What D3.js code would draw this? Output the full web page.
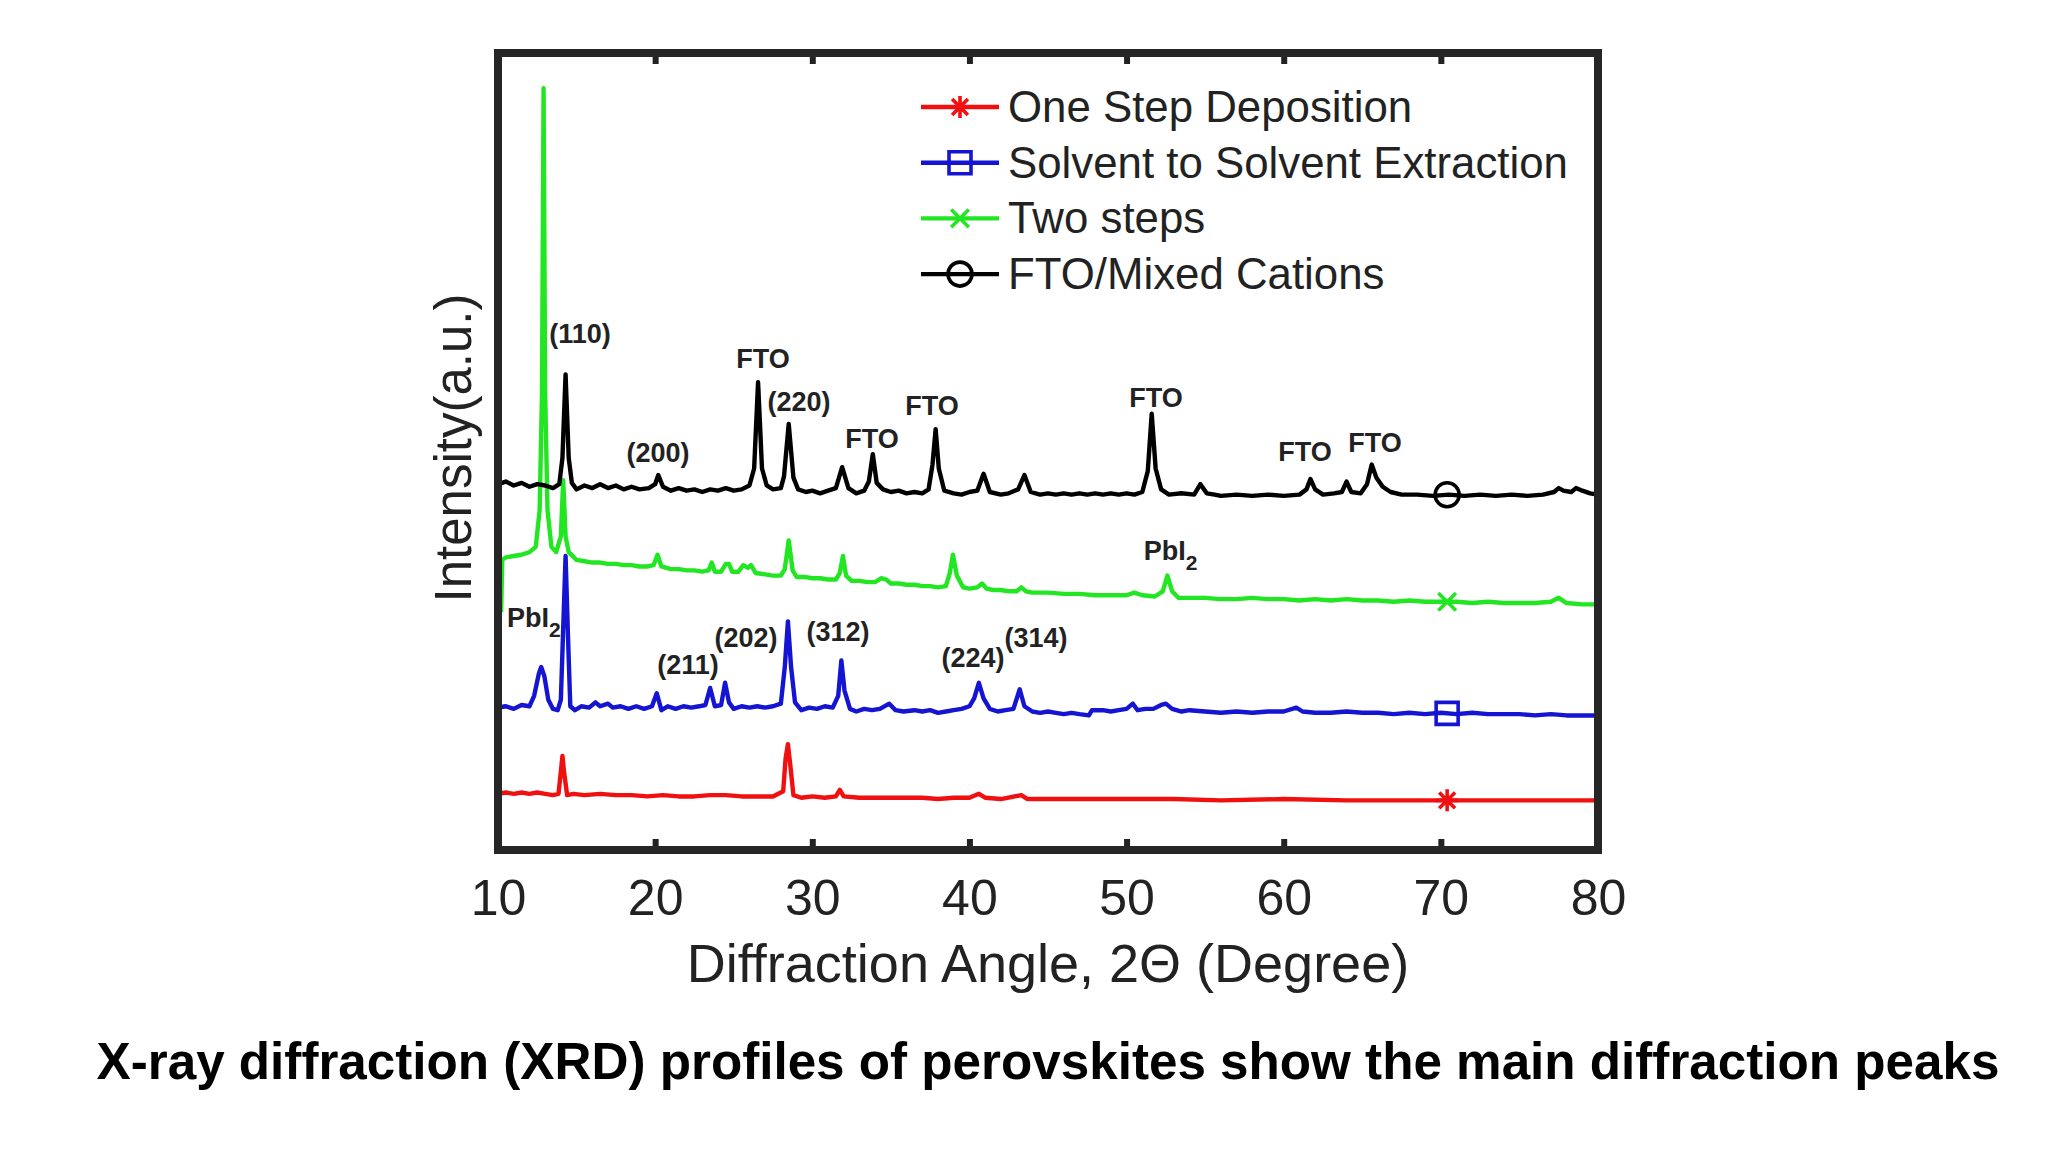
<!DOCTYPE html>
<html>
<head>
<meta charset="utf-8">
<title>XRD profiles</title>
<script src="https://d3js.org/d3.v7.min.js"></script>
<style>
  html, body { margin: 0; padding: 0; background: #fff; }
  svg text { font-family: "Liberation Sans", Arial, Helvetica, sans-serif; fill: #222; }
  .lbl { font-weight: bold; font-size: 27px; }
</style>
</head>
<body>
<svg id="chart" width="2048" height="1152"></svg>
<script>
// 2-theta (deg) and intensity (a.u., offset stacked)
var oneStep = [
  [10.0,43],[10.5,44],[11.0,43],[11.5,44],[12.0,43],[12.5,44],[13.0,43],[13.5,42],[13.85,43],[14.0,60],[14.1,72],[14.2,60],
  [14.4,42],[14.8,43],[15.5,42],[16.5,43],[17.5,42],[18.5,42],[19.5,41],[20.5,42],[21.5,41],[22.5,41],[23.5,42],[24.5,42],
  [25.5,41],[26.5,41],[27.5,41],[28.15,45],[28.3,70],[28.45,81],[28.6,65],[28.8,42],[29.3,40],[30.0,41],[30.8,40],[31.5,41],
  [31.75,46],[32.0,41],[33.0,40],[34.0,40],[35.0,40],[36.0,40],[37.0,40],[38.0,39],[39.0,40],[40.0,40],[40.6,43],[41.0,40],
  [42.0,39],[43.3,42],[43.7,39],[45.0,39],[47.0,39],[50.0,39],[53.0,39],[56.0,38],[60.0,39],[64.0,38],[68.0,38],[72.0,38],
  [76.0,38],[80.0,38]
];

var solventExtraction = [
  [10.0,109],[10.5,110],[11.0,108],[11.5,111],[12.0,110],[12.3,118],[12.6,135],[12.75,140],[12.95,133],[13.2,115],[13.5,108],
  [13.8,107],[14.0,115],[14.15,170],[14.3,225],[14.45,165],[14.6,110],[14.9,107],[15.3,110],[15.8,109],[16.2,113],[16.5,110],
  [17.0,112],[17.3,109],[17.8,110],[18.3,108],[18.8,110],[19.3,108],[19.8,110],[20.1,120],[20.4,107],[20.8,110],[21.3,108],
  [21.8,110],[22.3,109],[22.8,110],[23.2,111],[23.5,124],[23.8,110],[24.2,111],[24.45,128],[24.7,113],[25.0,108],[25.5,110],
  [26.0,109],[26.5,110],[27.0,109],[27.5,110],[28.0,112],[28.25,140],[28.45,175],[28.65,140],[28.9,113],[29.3,107],[29.8,109],
  [30.3,108],[30.8,110],[31.3,109],[31.65,118],[31.85,145],[32.05,122],[32.4,108],[32.8,106],[33.3,108],[33.8,107],[34.3,108],
  [34.9,112],[35.3,107],[35.8,106],[36.5,107],[37.0,106],[37.5,107],[38.0,105],[38.5,106],[39.0,107],[39.5,108],[40.0,110],
  [40.3,116],[40.6,128],[40.9,116],[41.3,108],[41.8,106],[42.3,107],[42.8,108],[43.2,123],[43.5,110],[44.0,106],[44.5,105],
  [45.0,106],[45.5,105],[46.0,104],[46.5,105],[47.0,104],[47.6,103],[47.8,107],[48.5,107],[49.0,106],[49.5,107],[50.0,108],
  [50.4,112],[50.7,107],[51.2,108],[51.7,108],[52.2,111],[52.5,112],[52.9,108],[53.5,106],[54.0,107],[55.0,106],[56.0,105],
  [57.0,106],[58.0,105],[59.0,106],[60.0,106],[60.8,109],[61.2,106],[62.0,105],[63.0,105],[64.0,106],[65.0,105],[66.0,105],
  [67.0,104],[68.0,105],[69.0,104],[70.0,105],[71.0,104],[72.0,105],[73.0,104],[74.0,104],[75.0,104],[76.0,103],[77.0,104],
  [78.0,103],[79.0,103],[80.0,103]
];

var twoSteps = [
  [10.2,182],[10.27,222],[10.5,224],[11.0,225],[11.5,226],[12.0,228],[12.4,232],[12.65,260],[12.8,350],[12.9,583],[13.0,350],
  [13.15,260],[13.4,232],[13.7,228],[14.0,240],[14.15,283],[14.3,240],[14.5,228],[15.0,222],[15.5,221],[16.0,220],[16.5,220],
  [17.0,219],[17.5,219],[18.0,218],[18.5,218],[19.0,217],[19.5,217],[19.9,218],[20.15,226],[20.4,217],[21.0,215],[21.5,215],
  [22.0,214],[22.5,214],[23.0,213],[23.4,214],[23.6,220],[23.8,213],[24.2,213],[24.5,219],[24.7,219],[24.9,213],[25.3,213],
  [25.6,218],[25.9,216],[26.1,218],[26.4,212],[27.0,211],[27.5,210],[28.0,210],[28.25,215],[28.5,237],[28.75,214],[29.0,209],
  [29.5,209],[30.0,208],[30.5,208],[31.0,207],[31.5,207],[31.75,212],[31.95,225],[32.15,210],[32.5,206],[33.0,206],[33.5,205],
  [34.0,205],[34.4,208],[34.7,207],[35.0,204],[35.5,204],[36.0,203],[36.5,203],[37.0,202],[37.5,202],[38.0,201],[38.5,202],
  [38.75,212],[38.95,226],[39.2,210],[39.6,201],[40.0,200],[40.5,201],[40.8,204],[41.1,200],[41.5,199],[42.0,199],[42.5,198],
  [43.0,198],[43.3,201],[43.6,198],[44.0,197],[45.0,197],[46.0,196],[47.0,196],[48.0,195],[49.0,195],[50.0,195],[50.5,197],
  [51.0,195],[51.8,194],[52.3,198],[52.6,210],[52.9,198],[53.3,193],[54.0,193],[55.0,193],[56.0,192],[57.0,192],[58.0,193],
  [59.0,192],[60.0,192],[61.0,191],[62.0,192],[63.0,191],[64.0,192],[65.0,191],[66.0,191],[67.0,190],[68.0,191],[69.0,190],
  [70.0,190],[71.0,190],[72.0,189],[73.0,190],[74.0,189],[75.0,189],[76.0,189],[77.0,190],[77.5,193],[78.0,189],[79.0,188],
  [80.0,188]
];

var ftoMixed = [
  [10.0,280],[10.5,282],[11.0,279],[11.5,281],[12.0,278],[12.5,280],[13.0,279],[13.5,277],[13.9,280],[14.1,300],[14.3,364],
  [14.5,300],[14.7,281],[15.0,276],[15.5,279],[16.0,277],[16.5,280],[17.0,277],[17.5,279],[18.0,276],[18.5,278],[19.0,276],
  [19.6,277],[20.0,280],[20.2,287],[20.5,278],[21.0,275],[21.5,277],[22.0,275],[22.5,276],[23.0,274],[23.5,276],[24.0,275],
  [24.5,277],[25.0,275],[25.5,276],[26.0,279],[26.3,292],[26.55,358],[26.8,292],[27.1,279],[27.5,276],[28.0,277],[28.2,286],
  [28.5,326],[28.8,285],[29.1,276],[29.6,274],[30.0,275],[30.5,273],[31.0,275],[31.5,277],[31.9,293],[32.3,277],[32.8,273],
  [33.3,275],[33.6,282],[33.85,303],[34.1,281],[34.5,276],[35.0,274],[35.5,275],[36.0,273],[36.5,274],[37.0,273],[37.4,276],
  [37.65,295],[37.85,322],[38.05,292],[38.4,275],[39.0,273],[39.5,272],[40.0,274],[40.5,275],[40.9,288],[41.3,274],[42.0,272],
  [42.5,273],[43.1,276],[43.5,287],[43.9,274],[44.5,272],[45.0,273],[45.5,272],[46.0,273],[46.5,272],[47.0,273],[47.5,272],
  [48.0,273],[48.5,272],[49.0,273],[49.5,272],[50.0,273],[50.5,272],[51.0,274],[51.35,290],[51.6,334],[51.85,292],[52.2,276],
  [52.7,272],[53.5,273],[54.3,272],[54.7,280],[55.1,273],[55.6,272],[56.0,271],[57.0,272],[58.0,271],[59.0,272],[60.0,271],
  [61.0,272],[61.45,276],[61.7,284],[62.0,276],[62.5,272],[63.2,273],[63.7,274],[64.0,282],[64.3,274],[64.9,273],[65.3,280],
  [65.6,295],[65.9,285],[66.3,278],[66.8,274],[67.5,272],[68.5,272],[69.5,271],[70.5,272],[71.5,271],[72.5,272],[73.5,271],
  [74.5,272],[75.5,271],[76.5,272],[77.2,274],[77.5,277],[77.8,275],[78.3,274],[78.6,277],[79.0,275],[79.5,273],[80.0,272]
];

var seriesNames = ["One Step Deposition", "Solvent to Solvent Extraction", "Two steps", "FTO/Mixed Cations"];
var seriesColors = ["#f01010", "#1414d2", "#22e622", "#000000"];
var seriesMarkers = ["asterisk", "square", "times", "circle"];
var markerAngle = 70.4;

var xTicks = [10, 20, 30, 40, 50, 60, 70, 80];

// peak labels: text, subscript, 2-theta, intensity
var peakLabels = [
  ["(110)", "", 15.22, 388], ["(200)", "", 20.18, 297], ["FTO", "", 26.86, 369], ["(220)", "", 29.15, 336],
  ["FTO", "", 33.80, 308], ["FTO", "", 37.62, 333], ["FTO", "", 51.87, 339], ["FTO", "", 61.36, 298],
  ["FTO", "", 65.81, 305], ["PbI", "2", 51.1, 222], ["PbI", "2", 10.57, 171], ["(211)", "", 22.09, 135],
  ["(202)", "", 25.78, 155], ["(312)", "", 31.64, 160], ["(224)", "", 40.23, 140], ["(314)", "", 44.24, 155]
];

var svg = d3.select("#chart");
svg.append("rect").attr("width", 2048).attr("height", 1152).attr("fill", "#fff");

var x = d3.scaleLinear().domain([10, 80]).range([498, 1598]);
var y = d3.scaleLinear().domain([0, 610]).range([850, 53]);

svg.append("clipPath").attr("id", "plotclip")
  .append("rect").attr("x", x(10)).attr("y", y(610)).attr("width", x(80) - x(10)).attr("height", y(0) - y(610));

var line = d3.line().x(function(d) { return x(d[0]); }).y(function(d) { return y(d[1]); });

var allSeries = [oneStep, solventExtraction, twoSteps, ftoMixed];

// marker shapes, drawn as paths around 0,0
function markerPath(kind, r) {
  if (kind === "asterisk") {
    var k = r * 0.72;
    return "M" + (-r) + ",0H" + r + "M0," + (-r) + "V" + r +
      "M" + (-k) + "," + (-k) + "L" + k + "," + k + "M" + (-k) + "," + k + "L" + k + "," + (-k);
  }
  if (kind === "times") {
    var t = r * 0.8;
    return "M" + (-t) + "," + (-t) + "L" + t + "," + t + "M" + (-t) + "," + t + "L" + t + "," + (-t);
  }
  if (kind === "square") {
    return "M" + (-r) + "," + (-r) + "H" + r + "V" + r + "H" + (-r) + "Z";
  }
  return d3.arc()({innerRadius: 0, outerRadius: r, startAngle: 0, endAngle: 2 * Math.PI});
}

function valueAt(data, a) {
  var i = d3.bisector(function(d) { return d[0]; }).left(data, a);
  var p0 = data[Math.max(0, i - 1)], p1 = data[Math.min(data.length - 1, i)];
  if (p1[0] === p0[0]) return p0[1];
  return p0[1] + (p1[1] - p0[1]) * (a - p0[0]) / (p1[0] - p0[0]);
}

var plot = svg.append("g").attr("clip-path", "url(#plotclip)");

allSeries.forEach(function(data, i) {
  plot.append("path")
    .datum(data)
    .attr("d", line)
    .attr("fill", "none")
    .attr("stroke", seriesColors[i])
    .attr("stroke-width", 4.4)
    .attr("stroke-linejoin", "round");

  plot.append("path")
    .attr("transform", "translate(" + x(markerAngle) + "," + y(valueAt(data, markerAngle)) + ")")
    .attr("d", markerPath(seriesMarkers[i], seriesMarkers[i] === "circle" ? 12 : 11))
    .attr("fill", "none")
    .attr("stroke", seriesColors[i])
    .attr("stroke-width", 3.6);
});

// peak annotations
peakLabels.forEach(function(p) {
  var t = svg.append("text")
    .attr("class", "lbl")
    .attr("x", x(p[2]))
    .attr("y", y(p[3]))
    .attr("text-anchor", p[1] ? "start" : "middle")
    .text(p[0]);
  if (p[1]) {
    t.append("tspan").attr("dy", 10).attr("font-size", 21).text(p[1]);
  }
});

// axes: ticks inside, top and bottom
var axB = svg.append("g")
  .attr("transform", "translate(0," + y(0) + ")")
  .call(d3.axisBottom(x).tickValues(xTicks).tickSize(-11).tickPadding(29));
var axT = svg.append("g")
  .attr("transform", "translate(0," + y(610) + ")")
  .call(d3.axisTop(x).tickValues(xTicks).tickSize(-11).tickFormat(""));
[axB, axT].forEach(function(a) {
  a.select(".domain").remove();
  a.selectAll(".tick line").attr("stroke", "#222").attr("stroke-width", 6);
});
axB.selectAll(".tick text")
  .attr("font-size", 50)
  .attr("font-family", "'Liberation Sans', Arial, sans-serif")
  .attr("fill", "#222");

// frame
svg.append("rect")
  .attr("x", x(10)).attr("y", y(610))
  .attr("width", x(80) - x(10)).attr("height", y(0) - y(610))
  .attr("fill", "none").attr("stroke", "#262626").attr("stroke-width", 8);

// axis titles
svg.append("text")
  .attr("x", 1048).attr("y", 982)
  .attr("text-anchor", "middle")
  .attr("font-size", 54)
  .text("Diffraction Angle, 2\u0398 (Degree)");

svg.append("text")
  .attr("transform", "translate(471,448) rotate(-90)")
  .attr("text-anchor", "middle")
  .attr("font-size", 51)
  .text("Intensity(a.u.)");

// legend
var legend = svg.append("g").attr("transform", "translate(921,107)");
seriesNames.forEach(function(name, i) {
  var row = legend.append("g").attr("transform", "translate(0," + (i * 55.7) + ")");
  row.append("line").attr("x1", 0).attr("x2", 78).attr("y1", 0).attr("y2", 0)
    .attr("stroke", seriesColors[i]).attr("stroke-width", 4.4);
  row.append("path")
    .attr("transform", "translate(39,0)")
    .attr("d", markerPath(seriesMarkers[i], seriesMarkers[i] === "circle" ? 12 : 11))
    .attr("fill", "none").attr("stroke", seriesColors[i]).attr("stroke-width", 3.6);
  row.append("text").attr("x", 87).attr("y", 15).attr("font-size", 43.8).text(name);
});

// caption
svg.append("text")
  .attr("x", 1048).attr("y", 1079)
  .attr("text-anchor", "middle")
  .attr("font-size", 51.2)
  .attr("font-weight", "bold")
  .style("fill", "#000")
  .text("X-ray diffraction (XRD) profiles of perovskites show the main diffraction peaks");
</script>
</body>
</html>
